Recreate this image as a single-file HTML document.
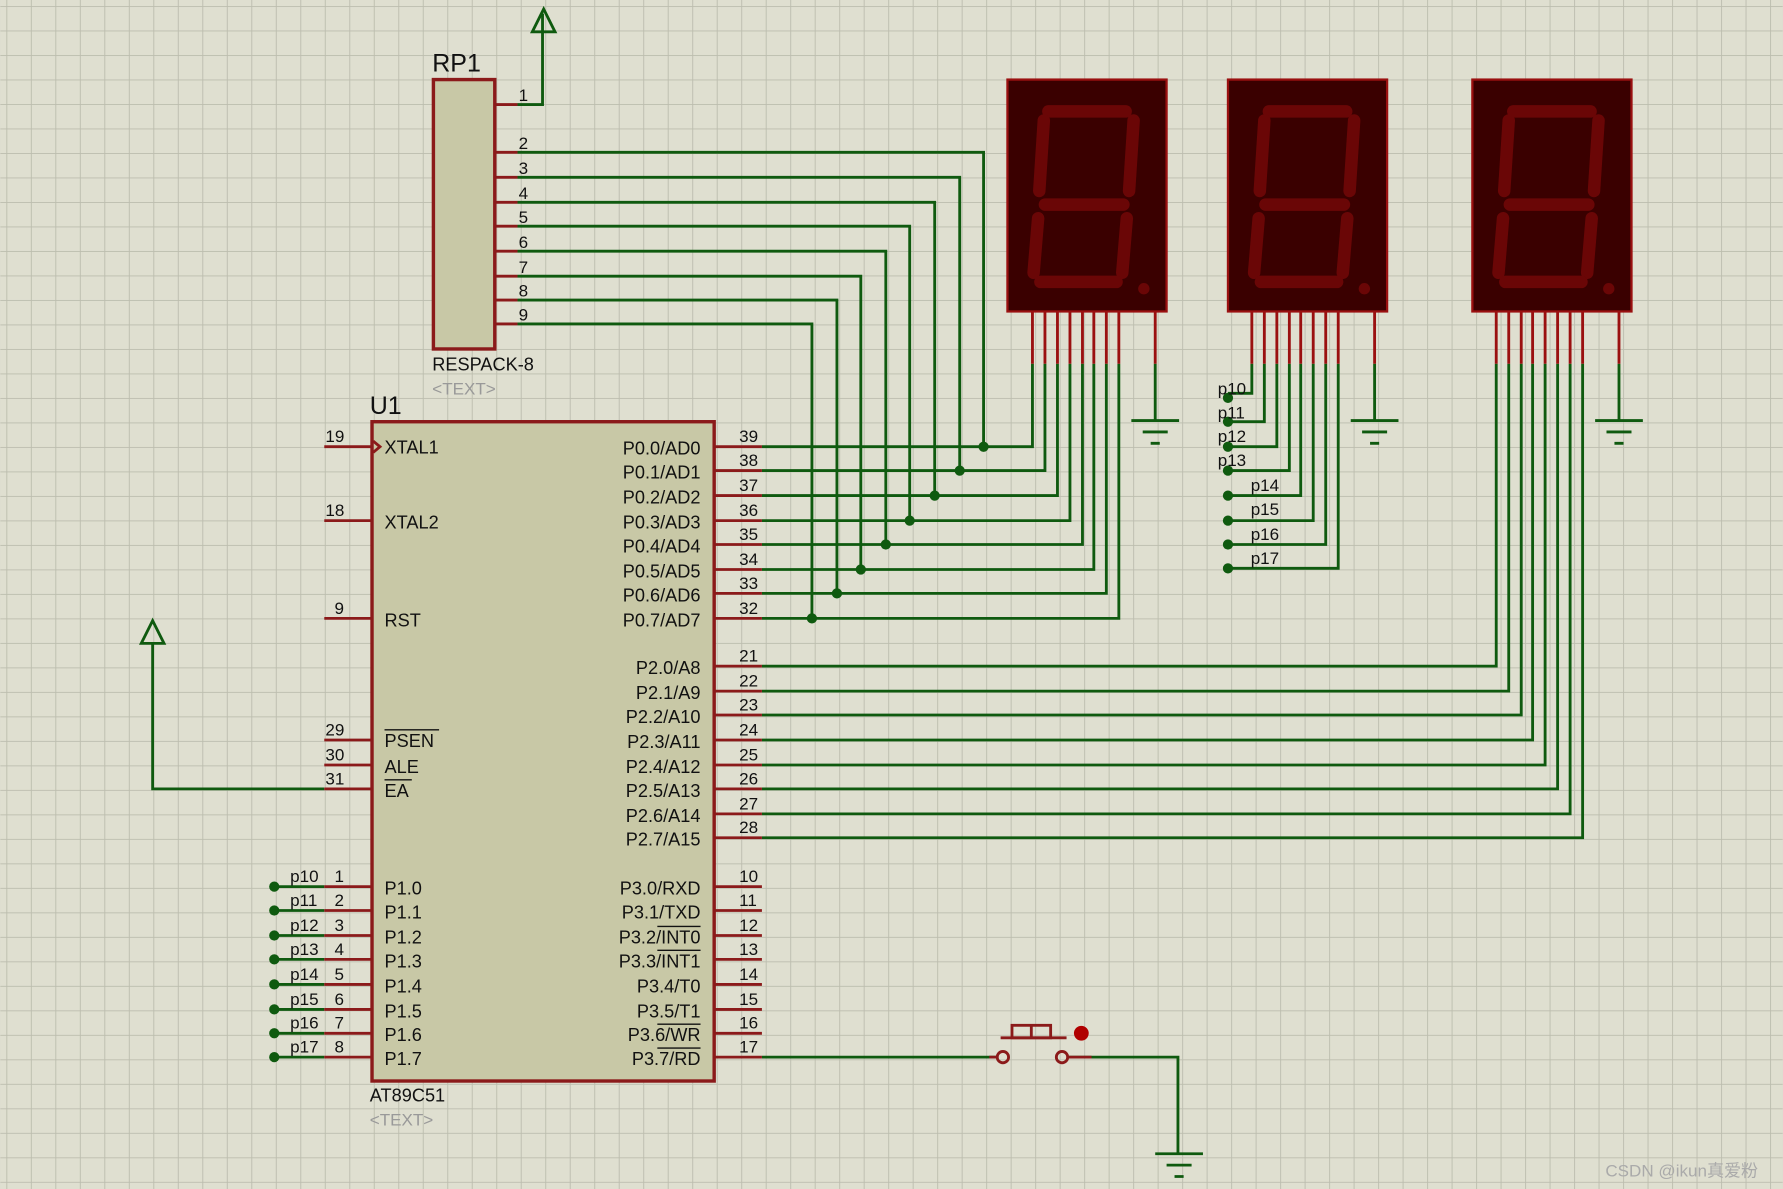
<!DOCTYPE html>
<html><head><meta charset="utf-8"><style>
html,body{margin:0;padding:0;background:#dfdfd0}
svg{display:block}
text{font-family:"Liberation Sans",sans-serif;fill:#111}
</style></head><body>
<svg width="1783" height="1189" viewBox="0 0 1568 1046" xmlns="http://www.w3.org/2000/svg">
<defs>
<pattern id="g" x="5.3" y="5.3" width="21.55" height="21.55" patternUnits="userSpaceOnUse">
<path d="M0 0H21.55M0 0V21.55" stroke="#bcbdae" stroke-width="1.6" fill="none"/>
</pattern>
<g id="seg">
<rect x="0" y="0" width="140" height="204" fill="#3a0000" stroke="#9a1010" stroke-width="2"/>
<g stroke="#6a0606" stroke-width="11" stroke-linecap="round" fill="none">
<path d="M36 28H104"/><path d="M111 36L107 98"/><path d="M32 36L28 98"/>
<path d="M33 110H102"/><path d="M27 122L23 170"/><path d="M105 122L101 170"/><path d="M29 178H96"/>
</g>
<circle cx="120" cy="184" r="5" fill="#6a0606"/>
</g>
</defs>
<rect width="1568" height="1046" fill="#dfdfd0"/>
<rect width="1568" height="1046" fill="url(#g)"/>

<!-- RP1 -->
<text x="380" y="63" font-size="22">RP1</text>
<rect x="381" y="70" width="54" height="237" fill="#c8c8a6" stroke="#8b1a1a" stroke-width="3"/>
<text x="380" y="326" font-size="16">RESPACK-8</text>
<text x="380" y="347" font-size="15" style="fill:#999">&lt;TEXT&gt;</text>
<g stroke="#8b1a1a" stroke-width="2.5">
<path d="M435 92H455M435 134H455M435 156H455M435 178H455M435 199H455M435 221H455M435 243H455M435 264H455M435 285H455"/>
</g>
<g font-size="15">
<text x="456" y="89">1</text><text x="456" y="131">2</text><text x="456" y="153">3</text><text x="456" y="175">4</text><text x="456" y="196">5</text><text x="456" y="218">6</text><text x="456" y="240">7</text><text x="456" y="261">8</text><text x="456" y="282">9</text>
</g>
<g stroke="#0f5a0f" stroke-width="2.5" fill="none">
<path d="M455 92H477V12"/>
<path d="M468 28H488L478 8Z" fill="none"/>
<path d="M455 134H865V393"/><path d="M455 156H844V414"/><path d="M455 178H822V436"/><path d="M455 199H800V458"/>
<path d="M455 221H779V479"/><path d="M455 243H757V501"/><path d="M455 264H736V522"/><path d="M455 285H714V544"/>
<!-- P0 -->
<path d="M670 393H908V320"/><path d="M670 414H919V320"/><path d="M670 436H930V320"/><path d="M670 458H941V320"/>
<path d="M670 479H952V320"/><path d="M670 501H962V320"/><path d="M670 522H973V320"/><path d="M670 544H984V320"/>
<path d="M1016 320V370M995 370H1037M1005 380H1027M1012 390H1020"/>
<!-- display2 -->
<path d="M1080 346H1101V320M1080 371H1112V320M1080 393H1123V320M1080 414H1134V320M1080 436H1144V320M1080 458H1155V320M1080 479H1166V320M1080 500H1177V320"/>
<path d="M1209 320V370M1188 370H1230M1198 380H1220M1205 390H1213"/>
<!-- display3 -->
<path d="M670 586H1316V320M670 608H1327V320M670 629H1338V320M670 651H1348V320M670 673H1359V320M670 694H1370V320M670 716H1381V320M670 737H1392V320"/>
<path d="M1424 320V370M1403 370H1445M1413 380H1435M1420 390H1428"/>
<!-- left -->
<path d="M285 694H134V566"/><path d="M124 566H144L134 546Z"/>
<path d="M241 780H285M241 801H285M241 823H285M241 844H285M241 866H285M241 888H285M241 909H285M241 930H285"/>
<!-- button -->
<path d="M670 930H877M940 930H1036V1015M1016 1015H1058M1026 1025H1048M1033 1035H1041"/>
</g>
<g fill="#0f5a0f">
<circle cx="865" cy="393" r="4.5"/><circle cx="844" cy="414" r="4.5"/><circle cx="822" cy="436" r="4.5"/><circle cx="800" cy="458" r="4.5"/>
<circle cx="779" cy="479" r="4.5"/><circle cx="757" cy="501" r="4.5"/><circle cx="736" cy="522" r="4.5"/><circle cx="714" cy="544" r="4.5"/>
<circle cx="1080" cy="350" r="4.5"/><circle cx="1080" cy="371" r="4.5"/><circle cx="1080" cy="393" r="4.5"/><circle cx="1080" cy="414" r="4.5"/>
<circle cx="1080" cy="436" r="4.5"/><circle cx="1080" cy="458" r="4.5"/><circle cx="1080" cy="479" r="4.5"/><circle cx="1080" cy="500" r="4.5"/>
<circle cx="241" cy="780" r="4.5"/><circle cx="241" cy="801" r="4.5"/><circle cx="241" cy="823" r="4.5"/><circle cx="241" cy="844" r="4.5"/>
<circle cx="241" cy="866" r="4.5"/><circle cx="241" cy="888" r="4.5"/><circle cx="241" cy="909" r="4.5"/><circle cx="241" cy="930" r="4.5"/>
</g>
<g font-size="15">
<text x="1071" y="347">p10</text><text x="1071" y="368">p11</text><text x="1071" y="389">p12</text><text x="1071" y="410">p13</text>
<text x="1100" y="432">p14</text><text x="1100" y="453">p15</text><text x="1100" y="475">p16</text><text x="1100" y="496">p17</text>
<text x="255" y="776">p10</text><text x="255" y="797">p11</text><text x="255" y="819">p12</text><text x="255" y="840">p13</text>
<text x="255" y="862">p14</text><text x="255" y="884">p15</text><text x="255" y="905">p16</text><text x="255" y="926">p17</text>
</g>

<!-- displays -->
<use href="#seg" x="886" y="70"/><use href="#seg" x="1080" y="70"/><use href="#seg" x="1295" y="70"/>
<g stroke="#9a1010" stroke-width="2.5">
<path d="M908 274V320M919 274V320M930 274V320M941 274V320M952 274V320M962 274V320M973 274V320M984 274V320M1016 274V320"/>
<path d="M1101 274V320M1112 274V320M1123 274V320M1134 274V320M1144 274V320M1155 274V320M1166 274V320M1177 274V320M1209 274V320"/>
<path d="M1316 274V320M1327 274V320M1338 274V320M1348 274V320M1359 274V320M1370 274V320M1381 274V320M1392 274V320M1424 274V320"/>
</g>

<!-- U1 -->
<text x="325" y="364" font-size="22">U1</text>
<rect x="327" y="371" width="301" height="580" fill="#c8c8a6" stroke="#8b1a1a" stroke-width="3"/>
<text x="325" y="969" font-size="16">AT89C51</text>
<text x="325" y="990" font-size="15" style="fill:#999">&lt;TEXT&gt;</text>
<g stroke="#8b1a1a" stroke-width="2.5" fill="none">
<path d="M285 393H327M285 458H327M285 544H327M285 651H327M285 673H327M285 694H327"/>
<path d="M285 780H327M285 801H327M285 823H327M285 844H327M285 866H327M285 888H327M285 909H327M285 930H327"/>
<path d="M628 393H670M628 414H670M628 436H670M628 458H670M628 479H670M628 501H670M628 522H670M628 544H670"/>
<path d="M628 586H670M628 608H670M628 629H670M628 651H670M628 673H670M628 694H670M628 716H670M628 737H670"/>
<path d="M628 780H670M628 801H670M628 823H670M628 844H670M628 866H670M628 888H670M628 909H670M628 930H670"/>
<path d="M328 388L334 393L328 398"/>
</g>
<g font-size="15">
<text x="286" y="389">19</text><text x="286" y="454">18</text><text x="294" y="540">9</text>
<text x="286" y="647">29</text><text x="286" y="669">30</text><text x="286" y="690">31</text>
<text x="294" y="776">1</text><text x="294" y="797">2</text><text x="294" y="819">3</text><text x="294" y="840">4</text><text x="294" y="862">5</text><text x="294" y="884">6</text><text x="294" y="905">7</text><text x="294" y="926">8</text>
<text x="650" y="389">39</text><text x="650" y="410">38</text><text x="650" y="432">37</text><text x="650" y="454">36</text><text x="650" y="475">35</text><text x="650" y="497">34</text><text x="650" y="518">33</text><text x="650" y="540">32</text>
<text x="650" y="582">21</text><text x="650" y="604">22</text><text x="650" y="625">23</text><text x="650" y="647">24</text><text x="650" y="669">25</text><text x="650" y="690">26</text><text x="650" y="712">27</text><text x="650" y="733">28</text>
<text x="650" y="776">10</text><text x="650" y="797">11</text><text x="650" y="819">12</text><text x="650" y="840">13</text><text x="650" y="862">14</text><text x="650" y="884">15</text><text x="650" y="905">16</text><text x="650" y="926">17</text>
</g>
<g font-size="16">
<text x="338" y="399">XTAL1</text><text x="338" y="465">XTAL2</text><text x="338" y="551">RST</text>
<text x="338" y="657">PSEN</text><text x="338" y="680">ALE</text><text x="338" y="701">EA</text>
<text x="338" y="787">P1.0</text><text x="338" y="808">P1.1</text><text x="338" y="830">P1.2</text><text x="338" y="851">P1.3</text><text x="338" y="873">P1.4</text><text x="338" y="895">P1.5</text><text x="338" y="916">P1.6</text><text x="338" y="937">P1.7</text>
</g>
<g font-size="16" text-anchor="end">
<text x="616" y="400">P0.0/AD0</text><text x="616" y="421">P0.1/AD1</text><text x="616" y="443">P0.2/AD2</text><text x="616" y="465">P0.3/AD3</text>
<text x="616" y="486">P0.4/AD4</text><text x="616" y="508">P0.5/AD5</text><text x="616" y="529">P0.6/AD6</text><text x="616" y="551">P0.7/AD7</text>
<text x="616" y="593">P2.0/A8</text><text x="616" y="615">P2.1/A9</text><text x="616" y="636">P2.2/A10</text><text x="616" y="658">P2.3/A11</text>
<text x="616" y="680">P2.4/A12</text><text x="616" y="701">P2.5/A13</text><text x="616" y="723">P2.6/A14</text><text x="616" y="744">P2.7/A15</text>
<text x="616" y="787">P3.0/RXD</text><text x="616" y="808">P3.1/TXD</text><text x="616" y="830">P3.2/INT0</text><text x="616" y="851">P3.3/INT1</text>
<text x="616" y="873">P3.4/T0</text><text x="616" y="895">P3.5/T1</text><text x="616" y="916">P3.6/WR</text><text x="616" y="937">P3.7/RD</text>
</g>
<g stroke="#111" stroke-width="1.2">
<path d="M338 642H386M338 686H362M578 815H616M578 836H616M578 901H616M578 922H616"/>
</g>

<!-- button -->
<g stroke="#8b1a1a" stroke-width="2.5" fill="none">
<path d="M870 930H877M940 930H960"/>
<circle cx="882" cy="930" r="5"/><circle cx="934" cy="930" r="5"/>
<path d="M880 913H938M907 913V903"/>
<rect x="890" y="902" width="34" height="11" fill="none"/>
</g>
<circle cx="951" cy="909" r="6.5" fill="#b00000"/>

<text x="1412" y="1035" font-size="15" style="fill:#aaa;font-family:'Liberation Sans','Noto Sans CJK SC',sans-serif">CSDN @ikun真爱粉</text>
</svg>
</body></html>
